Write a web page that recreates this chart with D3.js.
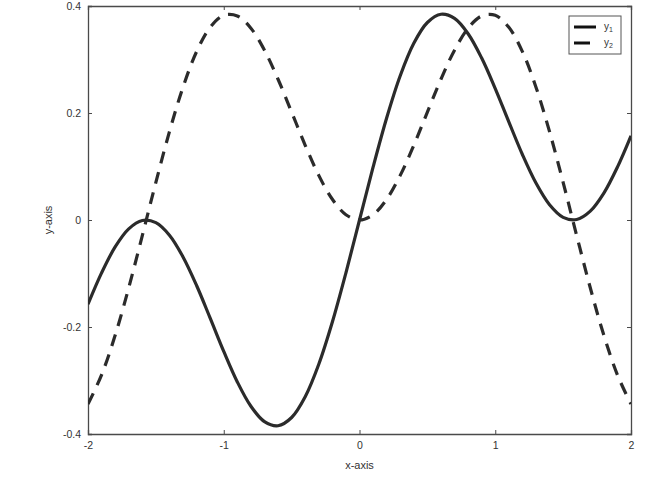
<!doctype html>
<html lang="en">
<head>
<meta charset="utf-8">
<title>y1 and y2</title>
<script src="https://d3js.org/d3.v7.min.js"></script>
<style>
    body { margin: 0; background: #fff; }
    svg { display: block; font-family: "Liberation Sans", Arial, sans-serif; }
</style>
</head>
<body>
<script>
    // values, x from -2 to 2 every 0.1
    const xs = [-2.0, -1.9, -1.8, -1.7, -1.6, -1.5, -1.4, -1.3, -1.2, -1.1,
        -1.0, -0.9, -0.8, -0.7, -0.6, -0.5, -0.4, -0.3, -0.2, -0.1,
        0.0, 0.1, 0.2, 0.3, 0.4, 0.5, 0.6, 0.7, 0.8, 0.9,
        1.0, 1.1, 1.2, 1.3, 1.4, 1.5, 1.6, 1.7, 1.8, 1.9, 2.0]
    const y1 = [-0.1575, -0.0989, -0.0503, -0.0165, -0.0009, -0.0050, -0.0285, -0.0690, -0.1224, -0.1834,
        -0.2456, -0.3027, -0.3482, -0.3769, -0.3846, -0.3692, -0.3304, -0.2697, -0.1908, -0.0988,
        0, 0.0988, 0.1908, 0.2697, 0.3304, 0.3692, 0.3846, 0.3769, 0.3482, 0.3027,
        0.2456, 0.1834, 0.1224, 0.0690, 0.0285, 0.0050, 0.0009, 0.0165, 0.0503, 0.0989, 0.1575]
    const y2 = [-0.3441, -0.2895, -0.2155, -0.1267, -0.0292, 0.0704, 0.1651, 0.2483, 0.3148, 0.3602,
        0.3826, 0.3814, 0.3585, 0.3174, 0.2631, 0.2017, 0.1397, 0.0834, 0.0387, 0.0099,
        0, 0.0099, 0.0387, 0.0834, 0.1397, 0.2017, 0.2631, 0.3174, 0.3585, 0.3814,
        0.3826, 0.3602, 0.3148, 0.2483, 0.1651, 0.0704, -0.0292, -0.1267, -0.2155, -0.2895, -0.3441]
    const xTicks = [-2, -1, 0, 1, 2]
    const yTicks = [-0.4, -0.2, 0, 0.2, 0.4]
    const seriesNames = ["y1", "y2"]

    const width = 668, height = 488
    const margin = { top: 6, right: 37, bottom: 54, left: 88 }

    const svg = d3.select("body").append("svg")
        .attr("width", width)
        .attr("height", height)

    const x = d3.scaleLinear().domain([-2, 2]).range([margin.left, width - margin.right])
    const y = d3.scaleLinear().domain([-0.4, 0.4]).range([height - margin.bottom, margin.top])

    svg.append("clipPath").attr("id", "plot")
        .append("rect")
        .attr("x", x(-2)).attr("y", y(0.4))
        .attr("width", x(2) - x(-2)).attr("height", y(-0.4) - y(0.4))

    // axes: inward ticks on all four sides, plain hyphen for negatives
    const tickLen = 4
    const fmt = d => String(d)

    const axBottom = svg.append("g")
        .attr("transform", `translate(0,${y(-0.4)})`)
        .call(d3.axisBottom(x).tickValues(xTicks).tickSize(-tickLen).tickPadding(8).tickFormat(fmt))
    const axTop = svg.append("g")
        .attr("transform", `translate(0,${y(0.4)})`)
        .call(d3.axisTop(x).tickValues(xTicks).tickSize(-tickLen).tickFormat(""))
    const axLeft = svg.append("g")
        .attr("transform", `translate(${x(-2)},0)`)
        .call(d3.axisLeft(y).tickValues(yTicks).tickSize(-tickLen).tickPadding(7).tickFormat(fmt))
    const axRight = svg.append("g")
        .attr("transform", `translate(${x(2)},0)`)
        .call(d3.axisRight(y).tickValues(yTicks).tickSize(-tickLen).tickFormat(""))

    for (const g of [axBottom, axTop, axLeft, axRight]) {
        g.select(".domain").attr("stroke", "#4a4a4a").attr("stroke-width", 1.3)
        g.selectAll(".tick line").attr("stroke", "#4a4a4a")
        g.selectAll(".tick text").attr("fill", "#333").attr("font-size", 10.5)
            .attr("font-family", "Liberation Sans, Arial, sans-serif")
    }

    svg.append("text")
        .attr("x", x(0)).attr("y", height - 19)
        .attr("text-anchor", "middle")
        .attr("font-size", 11).attr("fill", "#333")
        .text("x-axis")

    svg.append("text")
        .attr("transform", `translate(52,${y(0)}) rotate(-90)`)
        .attr("text-anchor", "middle")
        .attr("font-size", 11).attr("fill", "#333")
        .text("y-axis")

    // curves
    const line = d3.line()
        .x((d, i) => x(xs[i]))
        .y(d => y(d))
        .curve(d3.curveCatmullRom.alpha(0.5))

    const curves = svg.append("g").attr("clip-path", "url(#plot)")
    curves.append("path")
        .attr("d", line(y1))
        .attr("fill", "none")
        .attr("stroke", "#2b2b2b")
        .attr("stroke-width", 3.2)
    curves.append("path")
        .attr("d", line(y2))
        .attr("fill", "none")
        .attr("stroke", "#2b2b2b")
        .attr("stroke-width", 3.2)
        .attr("stroke-dasharray", "12,9")

    // legend
    const legend = svg.append("g").attr("transform", "translate(569,16)")
    legend.append("rect")
        .attr("width", 52).attr("height", 38)
        .attr("fill", "#fff").attr("stroke", "#555").attr("stroke-width", 1)
    seriesNames.forEach((name, i) => {
        const ly = 11 + i * 16
        legend.append("line")
            .attr("x1", 5).attr("x2", i === 0 ? 27 : 21)
            .attr("y1", ly).attr("y2", ly)
            .attr("stroke", "#111").attr("stroke-width", 3)
        const t = legend.append("text")
            .attr("x", 35).attr("y", ly + 3)
            .attr("font-size", 10).attr("fill", "#333")
        t.append("tspan").text(name[0])
        t.append("tspan").attr("font-size", 7).attr("dy", 1.5).text(name.slice(1))
    })
</script>
</body>
</html>
